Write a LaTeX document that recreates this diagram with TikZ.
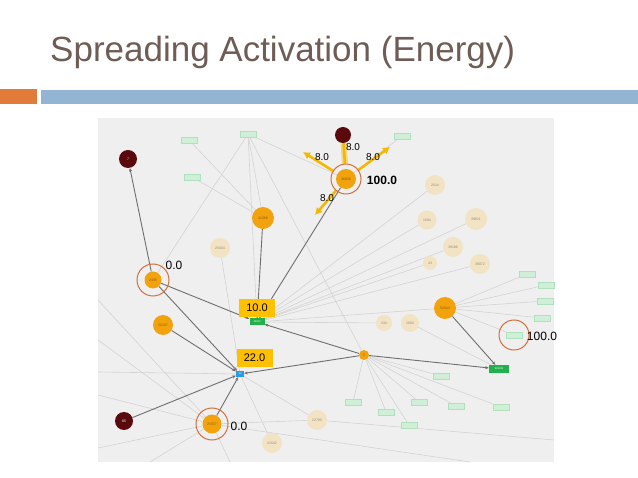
\documentclass[tikz,border=0pt]{standalone}
\usepackage{fontspec}
\setmainfont{Liberation Sans}
\usetikzlibrary{arrows.meta,backgrounds}
\definecolor{titlec}{HTML}{6F5D55}
\definecolor{barorange}{HTML}{E07B39}
\definecolor{barblue}{HTML}{94B4D3}
\definecolor{panelbg}{HTML}{EFEFEF}
\definecolor{orangeN}{HTML}{F2A20C}
\definecolor{beigeN}{HTML}{F1E3C3}
\definecolor{darkred}{HTML}{5A0A0C}
\definecolor{nodetxt}{HTML}{8A5A10}
\definecolor{beigetxt}{HTML}{9A8A70}
\definecolor{lgfill}{HTML}{CFEFD8}
\definecolor{lgdraw}{HTML}{B0E0BE}
\definecolor{dgreen}{HTML}{22B04B}
\definecolor{bluebox}{HTML}{2A9BE0}
\definecolor{ringcol}{HTML}{D0703A}
\definecolor{ledgec}{HTML}{D3D3D3}
\definecolor{dedgec}{HTML}{6E6E6E}
\definecolor{yboxc}{HTML}{FFC000}
\definecolor{yarrc}{HTML}{F5B800}
\newcommand\tinyf{\fontsize{3.5}{4}\selectfont}
\begin{document}
\begin{tikzpicture}[x=1pt,y=-1pt,
  every node/.style={inner sep=0pt},
  onode/.style={circle,fill=orangeN,font=\tinyf,text=nodetxt},
  bnode/.style={circle,fill=beigeN,font=\tinyf,text=beigetxt},
  dnode/.style={circle,fill=darkred,font=\tinyf,text=white,minimum size=18pt},
  lgbox/.style={rectangle,fill=lgfill,draw=lgdraw,line width=0.4pt,minimum width=16pt,minimum height=6pt},
  ringc/.style={circle,draw=ringcol,line width=1pt},
  ledge/.style={draw=ledgec,line width=0.6pt},
  dedge/.style={draw=dedgec,line width=0.9pt,-{Stealth[length=3.5pt,width=3pt]}},
  ybox/.style={fill=yboxc,minimum width=36pt,minimum height=18pt,font=\fontsize{11}{12}\selectfont},
  yarr/.style={draw=yarrc,line width=2.6pt,-{Latex[length=7pt,width=8pt]}},
  val/.style={font=\fontsize{12}{14}\selectfont},
  small/.style={font=\fontsize{10}{12}\selectfont}]
\useasboundingbox (0,0) rectangle (638,478);

% title and bars
\node[anchor=base west,text=titlec,font=\fontsize{35}{40}\selectfont] (title) at (50,62) {Spreading Activation (Energy)};
\fill[barorange] (0,89) rectangle (37,104);
\fill[barblue] (41,90) rectangle (638,104);

% nodes
\node[dnode] (dr1) at (128,159) {7};
\node[dnode,minimum size=16pt] (dr2) at (343,135) {};
\node[dnode] (dr3) at (124,421) {85};
\node[lgbox] (g1) at (189,140) {};
\node[lgbox] (g2) at (192,177) {};
\node[lgbox] (g3) at (248,134) {};
\node[lgbox] (g4) at (402,136) {};
\node[onode,minimum size=20pt] (n38036) at (346,179) {38036};
\node[ringc,minimum size=30pt] (r38036) at (346,179) {};
\node[onode,minimum size=22pt] (n41268) at (263,218) {41268};
\node[bnode,minimum size=20pt] (n25034) at (220,248) {25034};
\node[onode,minimum size=17pt] (n2495) at (153,280) {2495};
\node[ringc,minimum size=32pt] (r2495) at (153,280) {};
\node[bnode,minimum size=20pt] (n2014) at (435,185) {2014};
\node[bnode,minimum size=19pt] (n1594) at (427,220) {1594};
\node[bnode,minimum size=22pt] (n39621) at (476,219) {39621};
\node[bnode,minimum size=20pt] (n39196) at (453,247) {39196};
\node[bnode,minimum size=14pt] (n43) at (430,263) {43};
\node[bnode,minimum size=20pt] (n39072) at (480,264) {39072};
\node[onode,minimum size=22pt] (n52544) at (445,308) {52544};
\node[rectangle,fill=dgreen,minimum width=15pt,minimum height=7pt,font=\fontsize{2.5}{3}\selectfont,text=white] (G) at (257,322) {40000};
\node[onode,minimum size=20pt] (n22137) at (163,325) {22137};
\node[rectangle,fill=bluebox,minimum width=8pt,minimum height=6pt,font=\fontsize{2.5}{3}\selectfont,text=white] (B) at (240,374) {33};
\node[onode,minimum size=10pt] (n5) at (364,355) {5};
\node[bnode,minimum size=16pt] (n334) at (384,323) {334};
\node[bnode,minimum size=18pt] (n2004) at (410,323) {2004};
\node[rectangle,fill=dgreen,minimum width=20pt,minimum height=8pt,font=\fontsize{2.5}{3}\selectfont,text=white] (DG) at (499,369) {333333};
\node[lgbox] (lgR) at (514,335) {};
\node[ringc,minimum size=30pt] (rlgR) at (514,335) {};
\node[onode,minimum size=19pt] (n21537) at (212,424) {21537};
\node[ringc,minimum size=32pt] (r21537) at (212,424) {};
\node[bnode,minimum size=20pt] (n22790) at (317,420) {22790};
\node[bnode,minimum size=20pt] (n21542) at (272,443) {21542};
\node[lgbox] (q1) at (527,274) {};
\node[lgbox] (q2) at (546,285) {};
\node[lgbox] (q3) at (545,301) {};
\node[lgbox] (q4) at (542,318) {};
\node[lgbox] (b1) at (353,402) {};
\node[lgbox] (b2) at (386,412) {};
\node[lgbox] (b3) at (409,425) {};
\node[lgbox] (b4) at (419,402) {};
\node[lgbox] (b5) at (441,376) {};
\node[lgbox] (b6) at (456,406) {};
\node[lgbox] (b7) at (501,407) {};

% free ends at the panel border
\coordinate (e1) at (98,340);
\coordinate (e2) at (98,395);
\coordinate (e3) at (98,448);
\coordinate (e4) at (150,462);
\coordinate (e5) at (230,462);
\coordinate (e6) at (98,372);
\coordinate (e7) at (554,440);
\coordinate (e8) at (470,462);
\coordinate (e9) at (98,300);
\coordinate (ya1) at (303,152);
\coordinate (ya2) at (390,147);
\coordinate (ya3) at (315,215);

% values
\node[ybox] (v10) at (257,308) {10.0};
\node[ybox] (v22) at (254.5,358) {22.0};
\node[small] (l1) at (353,147) {8.0};
\node[small] (l2) at (322,157) {8.0};
\node[small] (l3) at (373,157) {8.0};
\node[small] (l4) at (327,198) {8.0};
\node[val,font=\bfseries\fontsize{12}{14}\selectfont] (v100a) at (382,180) {100.0};
\node[val] (v0a) at (174,265) {0.0};
\node[val] (v0b) at (239,426) {0.0};
\node[val] (v100b) at (542,336) {100.0};

\begin{scope}[on background layer]
\fill[panelbg] (98,118) rectangle (554,462);
% light edges
\draw[ledge] (g3) -- (n41268);
\draw[ledge] (g3) -- (n2495);
\draw[ledge] (g3) -- (n5);
\draw[ledge] (g3) -- (G);
\draw[ledge] (g3) -- (n38036);
\draw[ledge] (g1) -- (n41268);
\draw[ledge] (g2) -- (n41268);
\draw[ledge] (g4) -- (n38036);
\draw[ledge] (n25034) -- (B);
\draw[ledge] (G) -- (n2014);
\draw[ledge] (G) -- (n1594);
\draw[ledge] (G) -- (n39621);
\draw[ledge] (G) -- (n39196);
\draw[ledge] (G) -- (n43);
\draw[ledge] (G) -- (n39072);
\draw[ledge] (G) -- (n334);
\draw[ledge] (G) -- (n52544);
\draw[ledge] (n2004) -- (DG);
\draw[ledge] (n52544) -- (q1);
\draw[ledge] (n52544) -- (q2);
\draw[ledge] (n52544) -- (q3);
\draw[ledge] (n52544) -- (q4);
\draw[ledge] (n52544) -- (lgR);
\draw[ledge] (n5) -- (b1);
\draw[ledge] (n5) -- (b2);
\draw[ledge] (n5) -- (b3);
\draw[ledge] (n5) -- (b4);
\draw[ledge] (n5) -- (b5);
\draw[ledge] (n5) -- (b6);
\draw[ledge] (n5) -- (b7);
\draw[ledge] (n21537) -- (e1);
\draw[ledge] (n21537) -- (e2);
\draw[ledge] (n21537) -- (e3);
\draw[ledge] (n21537) -- (e4);
\draw[ledge] (n21537) -- (e5);
\draw[ledge] (n21537) -- (n22790);
\draw[ledge] (n21537) -- (e8);
\draw[ledge] (B) -- (e6);
\draw[ledge] (B) -- (n21542);
\draw[ledge] (B) -- (n22790);
\draw[ledge] (n22790) -- (e7);
\draw[ledge] (n21537) -- (e9);
% dark edges
\draw[dedge] (n2495) -- (dr1);
\draw[dedge] (n41268) -- (G);
\draw[dedge] (n38036) -- (G);
\draw[dedge] (n2495) -- (G);
\draw[dedge] (n2495) -- (B);
\draw[dedge] (n22137) -- (B);
\draw[dedge] (n5) -- (B);
\draw[dedge] (n5) -- (G);
\draw[dedge] (n5) -- (DG);
\draw[dedge] (n52544) -- (DG);
\draw[dedge] (dr3) -- (B);
\draw[dedge] (n21537) -- (B);
% activation arrows
\draw[draw=yarrc,line width=6pt,opacity=0.45] (r38036) -- (dr2);
\draw[yarr] (r38036) -- (dr2.center);
\draw[yarr] (r38036) -- (ya1);
\draw[yarr] (r38036) -- (ya2);
\draw[yarr] (r38036) -- (ya3);
\end{scope}
\end{tikzpicture}
\end{document}
